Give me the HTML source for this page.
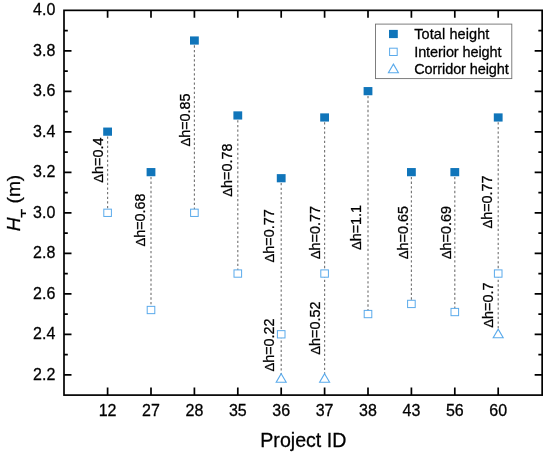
<!DOCTYPE html>
<html><head><meta charset="utf-8"><title>Chart</title>
<style>html,body{margin:0;padding:0;background:#fff;overflow:hidden}svg{display:block}text{font-family:"Liberation Sans",Arial,sans-serif;fill:#000}</style></head><body>
<svg width="550" height="455" viewBox="0 0 550 455">
<rect width="550" height="455" fill="#fff"/>
<defs><clipPath id="tc"><rect x="0" y="-20" width="60" height="26.2"/></clipPath></defs>
<line x1="107.60" y1="131.85" x2="107.60" y2="212.85" stroke="#757575" stroke-width="1.15" stroke-dasharray="2.3 2.33"/>
<line x1="151.00" y1="172.35" x2="151.00" y2="310.05" stroke="#757575" stroke-width="1.15" stroke-dasharray="2.3 2.33"/>
<line x1="194.40" y1="40.72" x2="194.40" y2="212.85" stroke="#757575" stroke-width="1.15" stroke-dasharray="2.3 2.33"/>
<line x1="237.80" y1="115.65" x2="237.80" y2="273.60" stroke="#757575" stroke-width="1.15" stroke-dasharray="2.3 2.33"/>
<line x1="281.20" y1="178.43" x2="281.20" y2="378.90" stroke="#757575" stroke-width="1.15" stroke-dasharray="2.3 2.33"/>
<line x1="324.60" y1="117.67" x2="324.60" y2="378.90" stroke="#757575" stroke-width="1.15" stroke-dasharray="2.3 2.33"/>
<line x1="368.00" y1="91.35" x2="368.00" y2="314.10" stroke="#757575" stroke-width="1.15" stroke-dasharray="2.3 2.33"/>
<line x1="411.40" y1="172.35" x2="411.40" y2="303.98" stroke="#757575" stroke-width="1.15" stroke-dasharray="2.3 2.33"/>
<line x1="454.80" y1="172.35" x2="454.80" y2="312.08" stroke="#757575" stroke-width="1.15" stroke-dasharray="2.3 2.33"/>
<line x1="498.20" y1="117.67" x2="498.20" y2="334.35" stroke="#757575" stroke-width="1.15" stroke-dasharray="2.3 2.33"/>
<rect x="64.0" y="10.35" width="478.15" height="384.75" fill="none" stroke="#000" stroke-width="1.7"/>
<path d="M64.0 374.85h7.5M542.15 374.85h-7.5M64.0 334.35h7.5M542.15 334.35h-7.5M64.0 293.85h7.5M542.15 293.85h-7.5M64.0 253.35h7.5M542.15 253.35h-7.5M64.0 212.85h7.5M542.15 212.85h-7.5M64.0 172.35h7.5M542.15 172.35h-7.5M64.0 131.85h7.5M542.15 131.85h-7.5M64.0 91.35h7.5M542.15 91.35h-7.5M64.0 50.85h7.5M542.15 50.85h-7.5M64.0 354.60h3.8M542.15 354.60h-3.8M64.0 314.10h3.8M542.15 314.10h-3.8M64.0 273.60h3.8M542.15 273.60h-3.8M64.0 233.10h3.8M542.15 233.10h-3.8M64.0 192.60h3.8M542.15 192.60h-3.8M64.0 152.10h3.8M542.15 152.10h-3.8M64.0 111.60h3.8M542.15 111.60h-3.8M64.0 71.10h3.8M542.15 71.10h-3.8M64.0 30.60h3.8M542.15 30.60h-3.8M107.60 395.1v-7.5M107.60 10.35v7.5M151.00 395.1v-7.5M151.00 10.35v7.5M194.40 395.1v-7.5M194.40 10.35v7.5M237.80 395.1v-7.5M237.80 10.35v7.5M281.20 395.1v-7.5M281.20 10.35v7.5M324.60 395.1v-7.5M324.60 10.35v7.5M368.00 395.1v-7.5M368.00 10.35v7.5M411.40 395.1v-7.5M411.40 10.35v7.5M454.80 395.1v-7.5M454.80 10.35v7.5M498.20 395.1v-7.5M498.20 10.35v7.5" stroke="#000" stroke-width="1.7" fill="none"/>
<text x="55.3" y="379.85" font-size="16" text-anchor="end" stroke="#000" stroke-width="0.28">2.2</text>
<text x="55.3" y="339.35" font-size="16" text-anchor="end" stroke="#000" stroke-width="0.28">2.4</text>
<text x="55.3" y="298.85" font-size="16" text-anchor="end" stroke="#000" stroke-width="0.28">2.6</text>
<text x="55.3" y="258.35" font-size="16" text-anchor="end" stroke="#000" stroke-width="0.28">2.8</text>
<text x="55.3" y="217.85" font-size="16" text-anchor="end" stroke="#000" stroke-width="0.28">3.0</text>
<text x="55.3" y="177.35" font-size="16" text-anchor="end" stroke="#000" stroke-width="0.28">3.2</text>
<text x="55.3" y="136.85" font-size="16" text-anchor="end" stroke="#000" stroke-width="0.28">3.4</text>
<text x="55.3" y="96.35" font-size="16" text-anchor="end" stroke="#000" stroke-width="0.28">3.6</text>
<text x="55.3" y="55.85" font-size="16" text-anchor="end" stroke="#000" stroke-width="0.28">3.8</text>
<text x="55.3" y="15.35" font-size="16" text-anchor="end" stroke="#000" stroke-width="0.28">4.0</text>
<text x="107.60" y="415.8" font-size="16" text-anchor="middle" stroke="#000" stroke-width="0.28">12</text>
<text x="151.00" y="415.8" font-size="16" text-anchor="middle" stroke="#000" stroke-width="0.28">27</text>
<text x="194.40" y="415.8" font-size="16" text-anchor="middle" stroke="#000" stroke-width="0.28">28</text>
<text x="237.80" y="415.8" font-size="16" text-anchor="middle" stroke="#000" stroke-width="0.28">35</text>
<text x="281.20" y="415.8" font-size="16" text-anchor="middle" stroke="#000" stroke-width="0.28">36</text>
<text x="324.60" y="415.8" font-size="16" text-anchor="middle" stroke="#000" stroke-width="0.28">37</text>
<text x="368.00" y="415.8" font-size="16" text-anchor="middle" stroke="#000" stroke-width="0.28">38</text>
<text x="411.40" y="415.8" font-size="16" text-anchor="middle" stroke="#000" stroke-width="0.28">43</text>
<text x="454.80" y="415.8" font-size="16" text-anchor="middle" stroke="#000" stroke-width="0.28">56</text>
<text x="498.20" y="415.8" font-size="16" text-anchor="middle" stroke="#000" stroke-width="0.28">60</text>
<text x="303.3" y="446.5" font-size="19.6" text-anchor="middle" stroke="#000" stroke-width="0.28">Project ID</text>
<g transform="translate(19.8,231.2) rotate(-90)"><text x="0" y="0" font-size="19.2" stroke="#000" stroke-width="0.28"><tspan font-style="italic">H</tspan><tspan dx="8.5"> (m)</tspan></text><text x="13.4" y="11.2" font-size="14.5" clip-path="url(#tc)" stroke="#000" stroke-width="0.28">T</text></g>
<rect x="103.80" y="209.15" width="7.6" height="7.3" fill="#fff" stroke="#5aaaeb" stroke-width="1"/>
<rect x="103.20" y="127.55" width="8.8" height="8.2" fill="#1075ba"/>
<rect x="147.20" y="306.35" width="7.6" height="7.3" fill="#fff" stroke="#5aaaeb" stroke-width="1"/>
<rect x="146.60" y="168.05" width="8.8" height="8.2" fill="#1075ba"/>
<rect x="190.60" y="209.15" width="7.6" height="7.3" fill="#fff" stroke="#5aaaeb" stroke-width="1"/>
<rect x="190.00" y="36.42" width="8.8" height="8.2" fill="#1075ba"/>
<rect x="234.00" y="269.90" width="7.6" height="7.3" fill="#fff" stroke="#5aaaeb" stroke-width="1"/>
<rect x="233.40" y="111.35" width="8.8" height="8.2" fill="#1075ba"/>
<path d="M281.20 373.70L286.20 382.30H276.20Z" fill="#fff" stroke="#5aaaeb" stroke-width="1.1"/>
<rect x="277.40" y="330.65" width="7.6" height="7.3" fill="#fff" stroke="#5aaaeb" stroke-width="1"/>
<rect x="276.80" y="174.12" width="8.8" height="8.2" fill="#1075ba"/>
<path d="M324.60 373.70L329.60 382.30H319.60Z" fill="#fff" stroke="#5aaaeb" stroke-width="1.1"/>
<rect x="320.80" y="269.90" width="7.6" height="7.3" fill="#fff" stroke="#5aaaeb" stroke-width="1"/>
<rect x="320.20" y="113.37" width="8.8" height="8.2" fill="#1075ba"/>
<rect x="364.20" y="310.40" width="7.6" height="7.3" fill="#fff" stroke="#5aaaeb" stroke-width="1"/>
<rect x="363.60" y="87.05" width="8.8" height="8.2" fill="#1075ba"/>
<rect x="407.60" y="300.28" width="7.6" height="7.3" fill="#fff" stroke="#5aaaeb" stroke-width="1"/>
<rect x="407.00" y="168.05" width="8.8" height="8.2" fill="#1075ba"/>
<rect x="451.00" y="308.38" width="7.6" height="7.3" fill="#fff" stroke="#5aaaeb" stroke-width="1"/>
<rect x="450.40" y="168.05" width="8.8" height="8.2" fill="#1075ba"/>
<path d="M498.20 329.15L503.20 337.75H493.20Z" fill="#fff" stroke="#5aaaeb" stroke-width="1.1"/>
<rect x="494.40" y="269.90" width="7.6" height="7.3" fill="#fff" stroke="#5aaaeb" stroke-width="1"/>
<rect x="493.80" y="113.37" width="8.8" height="8.2" fill="#1075ba"/>
<text transform="translate(103.20,182.80) rotate(-90)" font-size="14.4" stroke="#000" stroke-width="0.28"><tspan font-size="13.2">Δ</tspan>h=0.4</text>
<text transform="translate(145.40,246.60) rotate(-90)" font-size="14.4" stroke="#000" stroke-width="0.28"><tspan font-size="13.2">Δ</tspan>h=0.68</text>
<text transform="translate(190.00,146.60) rotate(-90)" font-size="14.4" stroke="#000" stroke-width="0.28"><tspan font-size="13.2">Δ</tspan>h=0.85</text>
<text transform="translate(231.60,196.70) rotate(-90)" font-size="14.4" stroke="#000" stroke-width="0.28"><tspan font-size="13.2">Δ</tspan>h=0.78</text>
<text transform="translate(274.20,262.50) rotate(-90)" font-size="14.4" stroke="#000" stroke-width="0.28"><tspan font-size="13.2">Δ</tspan>h=0.77</text>
<text transform="translate(274.20,371.60) rotate(-90)" font-size="14.4" stroke="#000" stroke-width="0.28"><tspan font-size="13.2">Δ</tspan>h=0.22</text>
<text transform="translate(320.00,259.30) rotate(-90)" font-size="14.4" stroke="#000" stroke-width="0.28"><tspan font-size="13.2">Δ</tspan>h=0.77</text>
<text transform="translate(320.00,354.70) rotate(-90)" font-size="14.4" stroke="#000" stroke-width="0.28"><tspan font-size="13.2">Δ</tspan>h=0.52</text>
<text transform="translate(361.40,250.10) rotate(-90)" font-size="14.4" stroke="#000" stroke-width="0.28"><tspan font-size="13.2">Δ</tspan>h=1.1</text>
<text transform="translate(407.70,259.30) rotate(-90)" font-size="14.4" stroke="#000" stroke-width="0.28"><tspan font-size="13.2">Δ</tspan>h=0.65</text>
<text transform="translate(451.00,259.30) rotate(-90)" font-size="14.4" stroke="#000" stroke-width="0.28"><tspan font-size="13.2">Δ</tspan>h=0.69</text>
<text transform="translate(491.70,228.60) rotate(-90)" font-size="14.4" stroke="#000" stroke-width="0.28"><tspan font-size="13.2">Δ</tspan>h=0.77</text>
<text transform="translate(492.90,327.70) rotate(-90)" font-size="14.4" stroke="#000" stroke-width="0.28"><tspan font-size="13.2">Δ</tspan>h=0.7</text>
<rect x="375.5" y="24.1" width="136.3" height="54.5" fill="#fff" stroke="#707070" stroke-width="0.9"/>
<rect x="389" y="29.9" width="8.8" height="8.2" fill="#1075ba"/>
<rect x="389.6" y="48.2" width="7.6" height="7.3" fill="#fff" stroke="#5aaaeb" stroke-width="1"/>
<path d="M393.4 64.1L398.4 72.7H388.4Z" fill="#fff" stroke="#5aaaeb" stroke-width="1.1"/>
<text x="414.2" y="38.80" font-size="14.5" letter-spacing="0.09" stroke="#000" stroke-width="0.28">Total height</text>
<text x="414.2" y="56.50" font-size="14.5" letter-spacing="-0.09" stroke="#000" stroke-width="0.28">Interior height</text>
<text x="414.2" y="74.20" font-size="14.5" letter-spacing="-0.09" stroke="#000" stroke-width="0.28">Corridor height</text>
</svg></body></html>
